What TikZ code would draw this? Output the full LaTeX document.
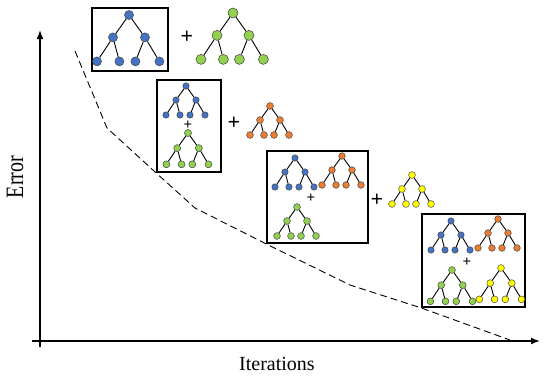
\documentclass[tikz,border=0pt]{standalone}
\usepackage{fontspec}
\setmainfont{Liberation Serif}
\usetikzlibrary{arrows.meta}

\definecolor{treeblue}{HTML}{4472C4}
\definecolor{treegreen}{HTML}{92D050}
\definecolor{treeorange}{HTML}{ED7D31}
\definecolor{treeyellow}{HTML}{FFFF00}

\begin{document}
\begin{tikzpicture}[
  x=1pt, y=-1pt,
  dot/.style={circle, draw=black!75, line width=0.5pt, fill=#1, inner sep=0pt},
  link/.style={line width=0.9pt},
  box/.style={draw, line width=1.8pt, inner sep=0pt},
  bigplus/.style={font=\fontsize{22}{22}\selectfont\bfseries, inner sep=0pt},
  smallplus/.style={font=\fontsize{15}{15}\selectfont\bfseries, inner sep=0pt},
  axis/.style={line width=1.6pt},
  label/.style={font=\fontsize{20}{24}\selectfont},
  pics/tree/.style 2 args={code={
    \node[dot=#1, minimum size=#2] (-r) at (0,0) {};
    \node[dot=#1, minimum size=#2] (-a) at (-10,14) {};
    \node[dot=#1, minimum size=#2] (-b) at (10,14) {};
    \node[dot=#1, minimum size=#2] (-c) at (-20,29) {};
    \node[dot=#1, minimum size=#2] (-d) at (-6,29) {};
    \node[dot=#1, minimum size=#2] (-e) at (4,29) {};
    \node[dot=#1, minimum size=#2] (-f) at (19,29) {};
    \draw[link] (-r) -- (-a) (-r) -- (-b) (-a) -- (-c) (-a) -- (-d)
                (-b) -- (-e) (-b) -- (-f);
  }},
  >={Latex[length=9pt, width=7pt]}
]
  \useasboundingbox (0,0) rectangle (550,378);

  % axes
  \coordinate (ytop) at (40,30);
  \coordinate (ybot) at (40,347);
  \coordinate (xleft) at (32,341);
  \coordinate (xend) at (540,341);
  \draw[axis,->] (ybot) -- (ytop);
  \draw[axis,->] (xleft) -- (xend);
  \node[label, rotate=90, yscale=1.25] (ylab) at (15,177) {Error};
  \node[label] (xlab) at (277,364) {Iterations};

  % boosting stages
  \node[box, minimum width=76, minimum height=63] (b1) at (130,39.5) {};
  \node[box, minimum width=64, minimum height=92] (b2) at (189,126) {};
  \node[box, minimum width=101, minimum height=92] (b3) at (317.5,197) {};
  \node[box, minimum width=103, minimum height=93] (b4) at (473.5,260.5) {};

  \pic[scale=1.6] (t1) at (129,15) {tree={treeblue}{9pt}};
  \node[bigplus] (p1) at (187,37) {+};
  \pic[scale=1.6] (g1) at (233,13) {tree={treegreen}{10pt}};

  \pic (t2) at (186,86) {tree={treeblue}{6.4pt}};
  \node[smallplus] (q2) at (188,125) {+};
  \pic[scale=1.08] (u2) at (188,133) {tree={treegreen}{7pt}};
  \node[bigplus] (p2) at (234,123) {+};
  \pic (g2) at (270,106) {tree={treeorange}{6.8pt}};

  \pic (t3) at (295,158) {tree={treeblue}{6.4pt}};
  \pic (v3) at (342,156) {tree={treeorange}{6.6pt}};
  \node[smallplus] (q3) at (311,198) {+};
  \pic (u3) at (297,207) {tree={treegreen}{6.8pt}};
  \node[bigplus] (p3) at (377,200) {+};
  \pic (g3) at (412,175) {tree={treeyellow}{6.8pt}};

  \pic (t4) at (451,221) {tree={treeblue}{6.4pt}};
  \pic (v4) at (498,219) {tree={treeorange}{6.6pt}};
  \node[smallplus] (q4) at (467,262) {+};
  \pic[scale=1.08] (u4) at (452,270) {tree={treegreen}{6.8pt}};
  \pic[scale=1.08] (w4) at (501,268) {tree={treeyellow}{6.8pt}};

  % error curve
  \draw[line width=0.9pt, dash pattern=on 7pt off 4pt]
    (75,51) -- (107,128) -- (b2.south west) -- (195,208) -- (b3.south west)
    -- (350,285) -- (b4.south west) -- (510,340);
\end{tikzpicture}
\end{document}
